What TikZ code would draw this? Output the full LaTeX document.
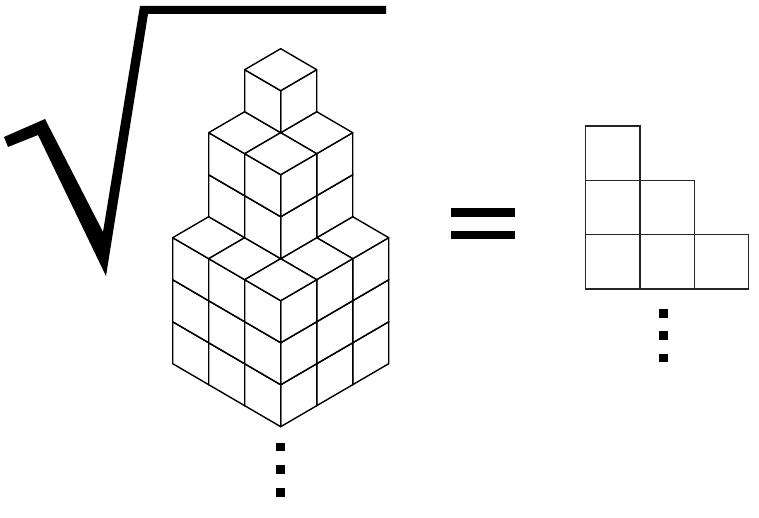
\documentclass[tikz,border=0pt]{standalone}
\usetikzlibrary{calc}
\begin{document}
\begin{tikzpicture}[x=1pt,y=1pt,
  cubeline/.style={draw=black,fill=white,line width=1.4pt,line join=round},
  cellbox/.style={draw=black!85,line width=1.3pt},
  dotbox/.style={fill=black}]
\useasboundingbox (0,0) rectangle (759,518);
\newcommand{\mycube}[3]{%
  \begin{scope}[shift={(280.7,91.3)},x={(36pt,21pt)},y={(-36pt,21pt)},z={(0pt,42pt)}]
  \filldraw[cubeline] (#1,#2,#3) -- (#1+1,#2,#3) -- (#1+1,#2,#3+1) -- (#1,#2,#3+1) -- cycle;
  \filldraw[cubeline] (#1,#2,#3) -- (#1,#2+1,#3) -- (#1,#2+1,#3+1) -- (#1,#2,#3+1) -- cycle;
  \filldraw[cubeline] (#1,#2,#3+1) -- (#1+1,#2,#3+1) -- (#1+1,#2+1,#3+1) -- (#1,#2+1,#3+1) -- cycle;
  \end{scope}}
% bottom block
\foreach \d in {4,3,...,-2}
 \foreach \x in {0,1,2} \foreach \y in {0,1,2} \foreach \z in {0,1,2} {
  \pgfmathtruncatemacro\dd{\x+\y-\z}
  \ifnum\dd=\d \mycube{\x}{\y}{\z}\fi }
% middle block
\foreach \d in {1,0,...,-3}
 \foreach \x in {1,2} \foreach \y in {1,2} \foreach \z in {3,4} {
  \pgfmathtruncatemacro\dd{\x+\y-\z}
  \ifnum\dd=\d \mycube{\x}{\y}{\z}\fi }
% top cube
\mycube{2}{2}{5}
% dots under cubes
\fill[dotbox] (276,518-451) rectangle (284.7,518-442.7);
\fill[dotbox] (276,518-474) rectangle (284.7,518-465.5);
\fill[dotbox] (276,518-497) rectangle (284.7,518-488.5);
% radical
\fill[black] (4,518-137) -- (45,518-119) -- (103,518-232) -- (140,518-6) -- (386,518-6)
  -- (386,518-14) -- (148,518-14) -- (106,518-276) -- (38,518-135) -- (8,518-147) -- cycle;
% equals
\fill (451,518-217) rectangle (515,518-208);
\fill (451,518-239) rectangle (515,518-231);
% staircase
\coordinate (s0) at (585.7,518-289);
\foreach \c/\r in {0/0,1/0,2/0,0/1,1/1,0/2}
  \draw[cellbox] ($(s0)+(\c*54.3,\r*54.3)$) rectangle ++(54.3,54.3);
% dots right
\fill[dotbox] (659,518-317.7) rectangle (667.7,518-309);
\fill[dotbox] (659,518-340) rectangle (667.7,518-331.5);
\fill[dotbox] (659,518-362.5) rectangle (667.7,518-354);
\end{tikzpicture}
\end{document}
